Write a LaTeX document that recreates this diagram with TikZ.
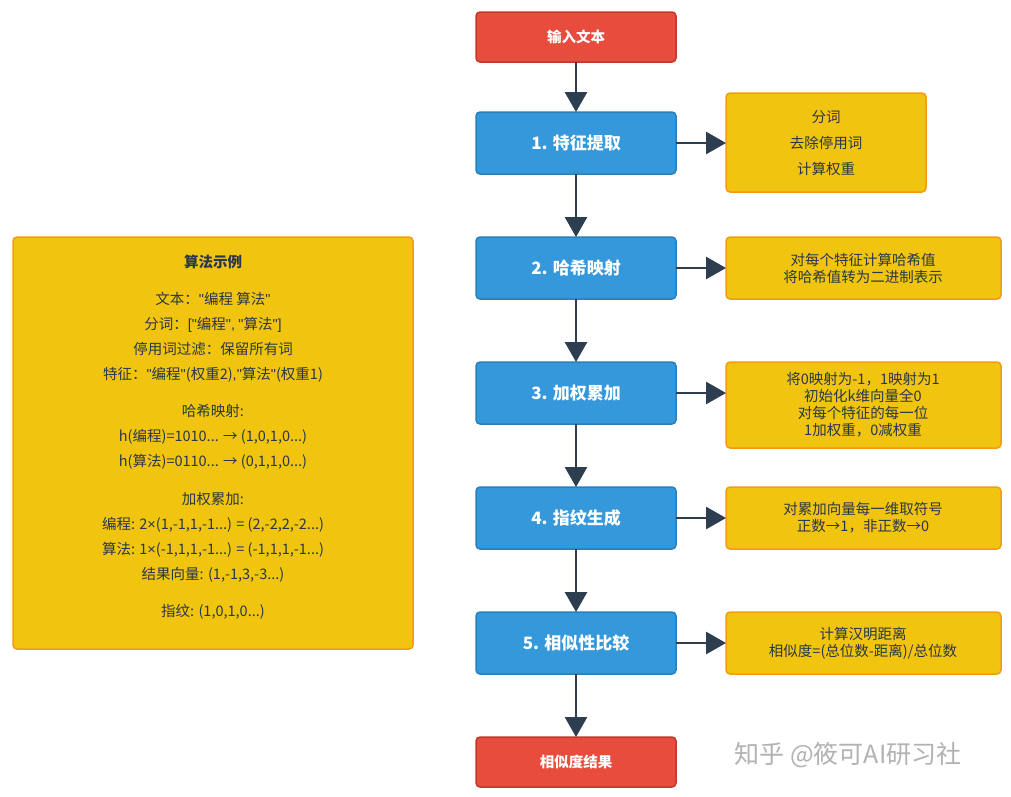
\documentclass[tikz,border=0pt]{standalone}
\usepackage{fontspec}
\setmainfont{Noto Sans CJK SC}
\newfontfamily\lat{Liberation Sans}
\newcommand\qq{{\lat"}}
\usetikzlibrary{arrows.meta}
\definecolor{red1}{HTML}{E74C3C}\definecolor{red2}{HTML}{C0392B}
\definecolor{blue1}{HTML}{3498DB}\definecolor{blue2}{HTML}{2980B9}
\definecolor{yel1}{HTML}{F1C40F}\definecolor{yel2}{HTML}{F39C12}
\definecolor{dark}{HTML}{2C3E50}
\begin{document}
\begin{tikzpicture}[x=1pt,y=-1pt,
 box/.style={rounded corners=4pt,line width=1.5pt},
 endbox/.style={box,fill=red1,draw=red2},
 stepbox/.style={box,fill=blue1,draw=blue2},
 notebox/.style={box,fill=yel1,draw=yel2},
 wt/.style={text=white,font=\bfseries\fontsize{17}{19}\selectfont},
 nt/.style={text=dark!90!black,font=\fontsize{14.5}{17}\selectfont,align=center},
 arr/.style={-{Triangle[length=20pt,width=22pt]},line width=2.8pt,draw=dark}]
\useasboundingbox[fill=white] (0,0) rectangle (1011,796);
\draw[endbox] (476,12) rectangle (676,62); \node[wt,font=\bfseries\fontsize{14.5}{15}\selectfont] (in) at (576,37) {输入文本};
\foreach \n/\y/\t in {s1/143/1. 特征提取,s2/268/2. 哈希映射,s3/393/3. 加权累加,s4/518/4. 指纹生成,s5/643/5. 相似性比较}{
 \draw[stepbox] (476,\y-31) rectangle (676,\y+31);
 \node[wt] (\n) at (576,\y) {\t};
 \coordinate (\n t) at (576,\y-31); \coordinate (\n b) at (576,\y+31); \coordinate (\n r) at (676,\y);}
\draw[endbox] (476,737) rectangle (676,787); \node[wt,font=\bfseries\fontsize{14.5}{15}\selectfont] (out) at (576,762) {相似度结果};
\draw[notebox] (726,93) rectangle (926,192); \coordinate (n1) at (726,143);
\node[nt,font=\fontsize{14.5}{26}\selectfont] at (826,143) {分词\\去除停用词\\计算权重};
\draw[notebox] (726,237) rectangle (1001,299); \coordinate (n2) at (726,268);
\node[nt] at (863,268) {对每个特征计算哈希值\\将哈希值转为二进制表示};
\draw[notebox] (726,362) rectangle (1001,448); \coordinate (n3) at (726,393);
\node[nt] at (863,405) {将0映射为-1，1映射为1\\初始化k维向量全0\\对每个特征的每一位\\1加权重，0减权重};
\draw[notebox] (726,487) rectangle (1001,549); \coordinate (n4) at (726,518);
\node[nt] at (863,518) {对累加向量每一维取符号\\正数→1，非正数→0};
\draw[notebox] (726,612) rectangle (1001,674); \coordinate (n5) at (726,643);
\node[nt] at (863,643) {计算汉明距离\\相似度=(总位数-距离)/总位数};
\draw[arr] (576,62) -- (s1t);
\draw[arr] (s1b) -- (s2t); \draw[arr] (s2b) -- (s3t); \draw[arr] (s3b) -- (s4t); \draw[arr] (s4b) -- (s5t);
\draw[arr] (s5b) -- (576,737);
\foreach \i in {1,...,5} \draw[arr] (s\i r) -- (n\i);
\draw[notebox] (13,237) rectangle (413,649);
\node[nt,font=\bfseries\fontsize{14.5}{15}\selectfont] (lt) at (213,262) {算法示例};
\node[nt,font=\fontsize{14.5}{25}\selectfont] (l1) at (213,337) {文本：\qq 编程 算法\qq\\分词：{\lat[}\qq 编程\qq{\lat,} \qq 算法\qq{\lat]}\\停用词过滤：保留所有词\\特征：\qq 编程\qq(权重2){\lat,}\qq 算法\qq(权重1)};
\node[nt,font=\fontsize{14.5}{25}\selectfont] (l2) at (213,437) {哈希映射:\\h(编程)=1010... → (1,0,1,0...)\\h(算法)=0110... → (0,1,1,0...)};
\node[nt,font=\fontsize{14.5}{25}\selectfont] (l3) at (213,537) {加权累加:\\编程: 2{\lat×}(1,-1,1,-1...) = (2,-2,2,-2...)\\算法: 1{\lat×}(-1,1,1,-1...) = (-1,1,1,-1...)\\结果向量: (1,-1,3,-3...)};
\node[nt] (l4) at (213,612) {指纹: (1,0,1,0...)};
\node[text=gray!60,font=\fontsize{25}{28}\selectfont] (wm) at (848,755) {知乎 @筱可AI研习社};
\end{tikzpicture}
\end{document}
